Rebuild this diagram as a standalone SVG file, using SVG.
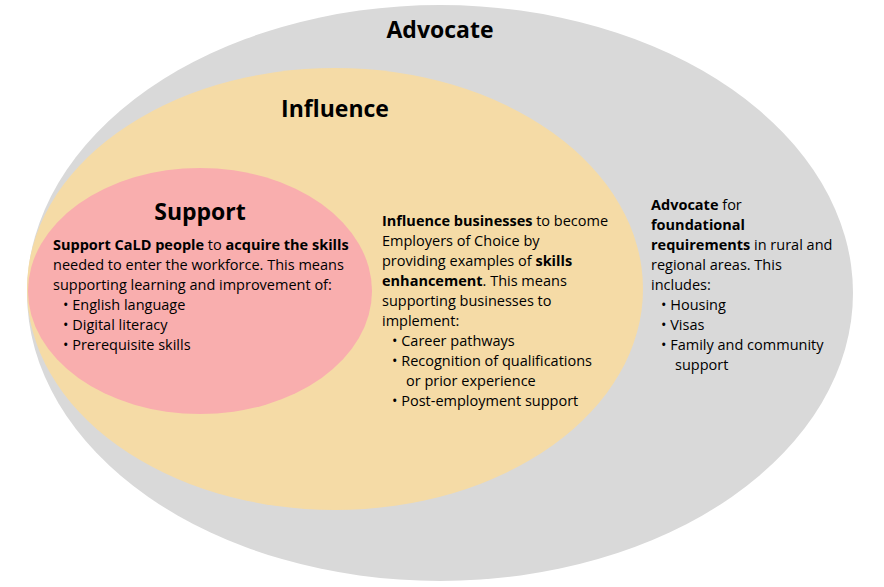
<svg xmlns="http://www.w3.org/2000/svg" width="884" height="587" viewBox="0 0 884 587">
<style>
text{font-family:"Open Sans","Noto Sans",sans-serif;fill:#000}
.t{font-size:23px;font-weight:bold;text-anchor:middle}
.b{font-size:14.5px}
.k{font-weight:bold}
</style>
<rect width="884" height="587" fill="#fff"/>
<g id="advocate">
<ellipse cx="440" cy="293" rx="413" ry="288" fill="#d9d9d9"/>
<text class="t" x="440" y="38">Advocate</text>
<text class="b" x="651" y="210"><tspan class="k">Advocate</tspan> for</text>
<text class="b" x="651" y="230" font-weight="bold">foundational</text>
<text class="b" x="651" y="250"><tspan class="k">requirements</tspan> in rural and</text>
<text class="b" x="651" y="270">regional areas. This</text>
<text class="b" x="651" y="290">includes:</text>
<text class="b" x="661" y="310">•  Housing</text>
<text class="b" x="661" y="330">•  Visas</text>
<text class="b" x="661" y="350">•  Family and community</text>
<text class="b" x="675" y="370">support</text>
</g>
<g id="influence">
<ellipse cx="335" cy="289" rx="308" ry="221" fill="#f5dba6"/>
<text class="t" x="335" y="117">Influence</text>
<text class="b" x="382" y="226"><tspan class="k">Influence businesses</tspan> to become</text>
<text class="b" x="382" y="246">Employers of Choice by</text>
<text class="b" x="382" y="266">providing examples of <tspan class="k">skills</tspan></text>
<text class="b" x="382" y="286"><tspan class="k">enhancement</tspan>. This means</text>
<text class="b" x="382" y="306">supporting businesses to</text>
<text class="b" x="382" y="326">implement:</text>
<text class="b" x="392" y="346">•  Career pathways</text>
<text class="b" x="392" y="366">•  Recognition of qualifications</text>
<text class="b" x="406" y="386">or prior experience</text>
<text class="b" x="392" y="406">•  Post-employment support</text>
</g>
<g id="support">
<ellipse cx="200" cy="291" rx="172" ry="123" fill="#f9aeae"/>
<text class="t" x="200" y="220">Support</text>
<text class="b" x="53" y="250"><tspan class="k">Support CaLD people</tspan> to <tspan class="k">acquire the skills</tspan></text>
<text class="b" x="53" y="270">needed to enter the workforce. This means</text>
<text class="b" x="53" y="290">supporting learning and improvement of:</text>
<text class="b" x="63" y="310">•  English language</text>
<text class="b" x="63" y="330">•  Digital literacy</text>
<text class="b" x="63" y="350">•  Prerequisite skills</text>
</g>
<g id="connectors"/>
</svg>
